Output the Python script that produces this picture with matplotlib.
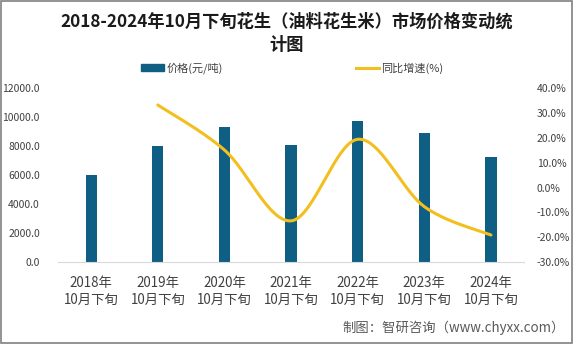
import numpy as np
import matplotlib
matplotlib.use("Agg")
import matplotlib.pyplot as plt
from matplotlib.patches import Rectangle
from matplotlib.lines import Line2D

plt.rcParams['font.family'] = ['Noto Sans CJK SC', 'DejaVu Sans']

categories = ["2018年\n10月下旬", "2019年\n10月下旬", "2020年\n10月下旬", "2021年\n10月下旬",
              "2022年\n10月下旬", "2023年\n10月下旬", "2024年\n10月下旬"]
price = [6000, 8000, 9300, 8070, 9720, 8920, 7220]
growth_x = [1, 2, 3, 4, 5, 6]
growth = [33.2, 15.1, -13.4, 19.4, -7.7, -19.1]
left_ticks = [0, 2000, 4000, 6000, 8000, 10000, 12000]
right_ticks = [-30, -20, -10, 0, 10, 20, 30, 40]

bar_color = "#0F5E84"
line_color = "#F3BF1F"


def smooth(xs, ys, n=40):
    xs = np.asarray(xs, float); ys = np.asarray(ys, float)
    px, py = [], []
    m = len(xs)
    for i in range(m - 1):
        p0 = (xs[i - 1], ys[i - 1]) if i > 0 else (xs[i], ys[i])
        p1 = (xs[i], ys[i]); p2 = (xs[i + 1], ys[i + 1])
        p3 = (xs[i + 2], ys[i + 2]) if i + 2 < m else p2
        c1 = (p1[0] + (p2[0] - p0[0]) / 6, p1[1] + (p2[1] - p0[1]) / 6)
        c2 = (p2[0] - (p3[0] - p1[0]) / 6, p2[1] - (p3[1] - p1[1]) / 6)
        t = np.linspace(0, 1, n)
        bx = (1-t)**3*p1[0] + 3*(1-t)**2*t*c1[0] + 3*(1-t)*t**2*c2[0] + t**3*p2[0]
        by = (1-t)**3*p1[1] + 3*(1-t)**2*t*c1[1] + 3*(1-t)*t**2*c2[1] + t**3*p2[1]
        px.extend(bx); py.extend(by)
    return np.array(px), np.array(py)


fig = plt.figure(figsize=(5.73, 3.44), dpi=100)
ax = fig.add_axes([0.101, 0.238, 0.814, 0.506])
x = np.arange(len(categories))
ax.bar(x, price, width=0.17, color=bar_color, zorder=2)
ax.set_xlim(-0.5, len(categories) - 0.5)
ax.set_ylim(0, 12000)
ax.set_yticks(left_ticks)
ax.set_yticklabels([f"{v:.1f}" for v in left_ticks], fontsize=7.5, color="#404040")
ax.set_xticks(x)
ax.set_xticklabels(categories, fontsize=9.6, color="#404040", linespacing=1.25)
ax.tick_params(axis="y", length=0, pad=13)
ax.tick_params(axis="x", length=0, pad=10)
for s in ["top", "right", "left"]:
    ax.spines[s].set_visible(False)
ax.spines["bottom"].set_color("#D9D9D9")

ax2 = ax.twinx()
sx, sy = smooth(growth_x, growth)
ax2.plot(sx, sy, color=line_color, lw=2.2, zorder=3, solid_capstyle="round")
ax2.set_ylim(-30, 40)
ax2.set_yticks(right_ticks)
ax2.set_yticklabels([f"{v:.1f}%" for v in right_ticks], fontsize=7.5, color="#404040")
ax2.tick_params(length=0, pad=9)
for s in ax2.spines.values():
    s.set_visible(False)

fig.text(0.5, 0.936, "2018-2024年10月下旬花生（油料花生米）市场价格变动统", ha="center", va="center",
         fontsize=12.4, fontweight="bold", color="#1a1a1a")
fig.text(0.5, 0.869, "计图", ha="center", va="center", fontsize=12.4, fontweight="bold", color="#1a1a1a")

leg_handles = [Rectangle((0, 0), 1, 1, color=bar_color), Line2D([0], [0], color=line_color, lw=2.2)]
fig.legend(leg_handles, ["价格(元/吨)", "同比增速(%)"], loc="center", bbox_to_anchor=(292 / 573, 0.802),
           ncol=2, frameon=False, fontsize=8, columnspacing=12, handlelength=2.1, handleheight=0.6,
           handletextpad=0.2, labelcolor="#404040")

fig.text(0.986, 0.047, "制图：智研咨询（www.chyxx.com）", ha="right", va="center", fontsize=9.6, color="#595959")
fig.add_artist(Rectangle((0.001, 0.003), 0.997, 0.995, transform=fig.transFigure, fill=False,
                         edgecolor="#808080", lw=1.2))

fig.savefig("out.png", dpi=100)
